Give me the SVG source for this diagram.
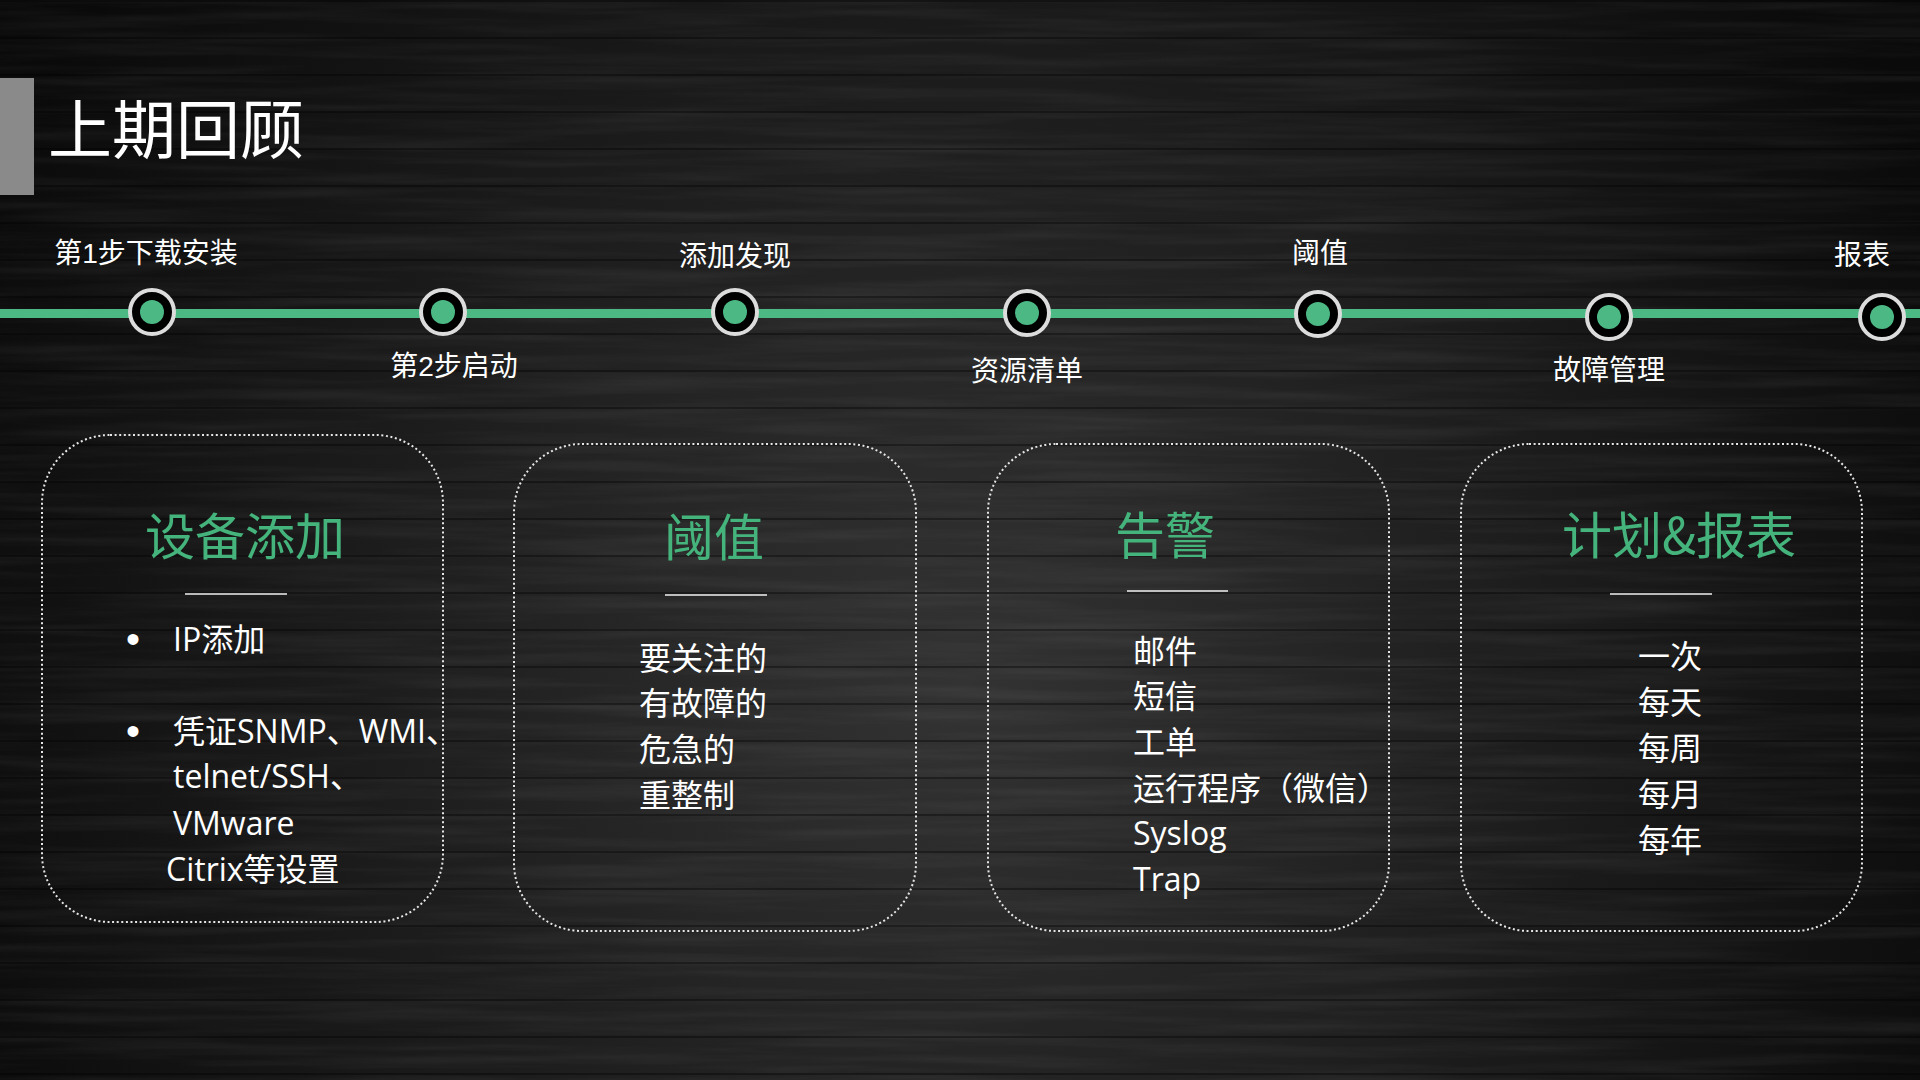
<svg xmlns="http://www.w3.org/2000/svg" width="1920" height="1080" viewBox="0 0 1920 1080">
<defs>
<style>
.tl{font-family:"Liberation Sans","Noto Sans CJK SC",sans-serif;font-size:28px;fill:#ffffff;text-anchor:middle}
.box{fill:none;stroke:#e6e6e6;stroke-width:2;stroke-dasharray:2 2.6}
.bt{font-family:"Noto Sans CJK SC",sans-serif;font-size:50px;fill:#45b47c;text-anchor:middle}
.body{font-family:"Open Sans","Noto Sans CJK SC",sans-serif;font-size:32px;fill:#ffffff}
.bul{font-family:"Liberation Sans",sans-serif;font-size:40px;fill:#ffffff;text-anchor:middle}
.div{stroke:#f0f0f0;stroke-width:1.5}
.ring{fill:#000;stroke:#dcdcdc;stroke-width:4}
.dot{fill:#4cb985}
</style>
<radialGradient id="bg" cx="960" cy="680" r="1100" gradientUnits="userSpaceOnUse">
<stop offset="0" stop-color="#333333"/>
<stop offset="0.45" stop-color="#202020"/>
<stop offset="1" stop-color="#0a0a0a"/>
</radialGradient>
<filter id="grain" x="0" y="0" width="100%" height="100%">
<feTurbulence type="fractalNoise" baseFrequency="0.004 0.09" numOctaves="3" seed="7"/>
<feColorMatrix type="matrix" values="0 0 0 0 1  0 0 0 0 1  0 0 0 0 1  0.9 0 0 0 -0.35"/>
</filter>
<pattern id="planks" x="0" y="0" width="1920" height="37" patternUnits="userSpaceOnUse">
<rect x="0" y="0" width="1920" height="2" fill="#000" opacity="0.35"/>
</pattern>
</defs>
<rect width="1920" height="1080" fill="url(#bg)"/>
<rect width="1920" height="1080" filter="url(#grain)" opacity="0.12"/>
<rect width="1920" height="1080" fill="url(#planks)"/>

<g id="title">
<rect x="0" y="78" width="34" height="117" fill="#8a8a8a"/>
<text x="48" y="153" font-family="'Noto Sans CJK SC',sans-serif" font-size="64" fill="#ffffff">上期回顾</text>
</g>

<g id="connectors">
<rect x="0" y="309" width="1920" height="9" fill="#4cb985"/>
</g>

<g id="step1"><circle class="ring" cx="152" cy="312" r="22"/><circle class="dot" cx="152" cy="312" r="12"/><text class="tl" x="146" y="263">第1步下载安装</text></g>
<g id="step2"><circle class="ring" cx="443" cy="312" r="22"/><circle class="dot" cx="443" cy="312" r="12"/><text class="tl" x="454" y="376">第2步启动</text></g>
<g id="step3"><circle class="ring" cx="735" cy="312" r="22"/><circle class="dot" cx="735" cy="312" r="12"/><text class="tl" x="735" y="266">添加发现</text></g>
<g id="step4"><circle class="ring" cx="1027" cy="313" r="22"/><circle class="dot" cx="1027" cy="313" r="12"/><text class="tl" x="1027" y="381">资源清单</text></g>
<g id="step5"><circle class="ring" cx="1318" cy="314" r="22"/><circle class="dot" cx="1318" cy="314" r="12"/><text class="tl" x="1320" y="263">阈值</text></g>
<g id="step6"><circle class="ring" cx="1609" cy="317" r="22"/><circle class="dot" cx="1609" cy="317" r="12"/><text class="tl" x="1609" y="380">故障管理</text></g>
<g id="step7"><circle class="ring" cx="1882" cy="317" r="22"/><circle class="dot" cx="1882" cy="317" r="12"/><text class="tl" x="1862" y="265">报表</text></g>

<g id="box1">
<rect class="box" x="42" y="435" width="401" height="487" rx="68" ry="68"/>
<text class="bt" x="245" y="555">设备添加</text>
<line class="div" x1="185" y1="594" x2="287" y2="594"/>
<text class="bul" x="133" y="653">•</text>
<text class="body" x="173" y="651">IP添加</text>
<text class="bul" x="133" y="745">•</text>
<text class="body" x="173" y="743">凭证SNMP、WMI、</text>
<text class="body" x="173" y="788">telnet/SSH、</text>
<text class="body" x="173" y="835">VMware</text>
<text class="body" x="166" y="881">Citrix等设置</text>
</g>

<g id="box2">
<rect class="box" x="514" y="444" width="402" height="487" rx="68" ry="68"/>
<text class="bt" x="714" y="556">阈值</text>
<line class="div" x1="665" y1="595" x2="767" y2="595"/>
<text class="body" x="639" y="670">要关注的</text>
<text class="body" x="639" y="715">有故障的</text>
<text class="body" x="639" y="761">危急的</text>
<text class="body" x="639" y="807">重整制</text>
</g>

<g id="box3">
<rect class="box" x="988" y="444" width="401" height="487" rx="68" ry="68"/>
<text class="bt" x="1165" y="554">告警</text>
<line class="div" x1="1127" y1="591" x2="1228" y2="591"/>
<text class="body" x="1133" y="663">邮件</text>
<text class="body" x="1133" y="708">短信</text>
<text class="body" x="1133" y="754">工单</text>
<text class="body" x="1133" y="800">运行程序（微信）</text>
<text class="body" x="1133" y="845">Syslog</text>
<text class="body" x="1133" y="891">Trap</text>
</g>

<g id="box4">
<rect class="box" x="1461" y="444" width="401" height="487" rx="68" ry="68"/>
<text class="bt" x="1679" y="554">计划&amp;报表</text>
<line class="div" x1="1610" y1="594" x2="1712" y2="594"/>
<text class="body" x="1638" y="668">一次</text>
<text class="body" x="1638" y="714">每天</text>
<text class="body" x="1638" y="760">每周</text>
<text class="body" x="1638" y="806">每月</text>
<text class="body" x="1638" y="852">每年</text>
</g>
</svg>
